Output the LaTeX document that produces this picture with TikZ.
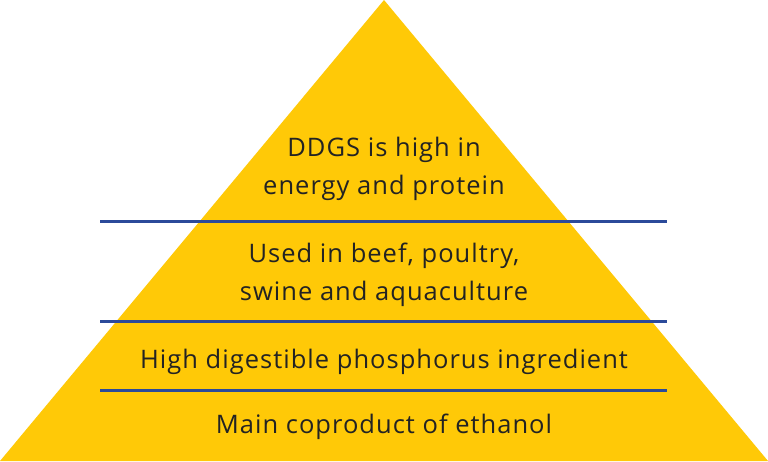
\documentclass[tikz,border=0pt]{standalone}
\usepackage{fontspec}
\setmainfont[LetterSpace=4]{Open Sans}
\usepackage{xcolor}
\definecolor{pyryellow}{HTML}{FFC907}
\definecolor{pyrblue}{HTML}{2B4A9A}
\definecolor{pyrtext}{HTML}{232323}
\newcommand{\tierline}[1] {
    \draw[divider] (100, {#1}) -- (667, {#1});
}
\newcommand{\tiertext}[3] {
    \node[tiertext] (#1) at (384, {#2}) {#3};
}

\begin{document}
\begin{tikzpicture}[
        x=1pt, y=-1pt,
        divider/.style={pyrblue, line width=2.2pt},
        tiertext/.style={
            text=pyrtext,
            align=center,
            inner sep=0pt,
            font=\fontsize{25.5}{38}\selectfont
        }
    ]
        \useasboundingbox (0,0) rectangle (768,461);
        \fill[pyryellow] (0,461) -- (384,0) -- (768,461) -- cycle;
        \foreach \y in {221.5, 321.5, 390.5} {
            \tierline{\y}
        }
        \tiertext{energy}{168.5}{DDGS is high in\\energy and protein}
        \tiertext{uses}{274.5}{Used in beef, poultry,\\swine and aquaculture}
        \tiertext{phosphorus}{361.5}{High digestible phosphorus ingredient}
        \tiertext{ethanol}{427}{Main coproduct of ethanol}
    \end{tikzpicture}
\end{document}
